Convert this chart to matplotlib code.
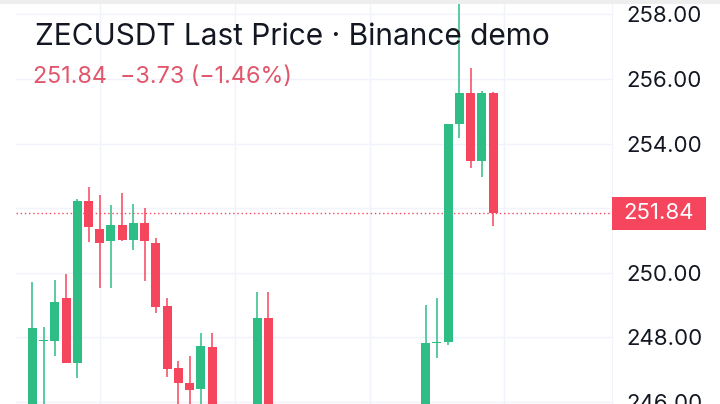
import numpy as np
import matplotlib
matplotlib.use('Agg')
import matplotlib.pyplot as plt
from matplotlib.patches import Rectangle
from matplotlib.transforms import blended_transform_factory

plt.rcParams['font.family'] = ['Inter', 'DejaVu Sans']

# OHLC (candles below the visible range are estimates)
opens = [245.5, 247.88, 247.90, 249.22, 247.22, 252.22, 251.35, 250.97, 251.48, 251.02,
         251.54, 250.92, 248.97, 247.06, 246.60, 246.41, 247.71, 245.5, 245.2, 245.4,
         245.3, 248.59, 245.6, 245.3, 245.5, 245.4, 245.0, 245.3, 245.6, 245.4,
         245.2, 245.1, 245.4, 245.6, 245.3, 245.5, 247.82, 247.87, 254.60, 255.56,
         253.47, 255.57]
highs = [249.72, 248.33, 249.78, 249.95, 252.27, 252.67, 252.41, 252.10, 252.46, 252.13,
         252.00, 251.07, 249.21, 247.27, 247.43, 248.14, 248.14, 245.8, 245.6, 245.7,
         249.40, 249.40, 245.8, 245.7, 245.8, 245.6, 245.5, 245.7, 245.8, 245.7,
         245.5, 245.6, 245.8, 245.8, 245.7, 249.00, 249.21, 254.61, 258.6, 256.33,
         255.63, 255.61]
lows = [245.3, 245.4, 247.43, 247.22, 246.75, 250.96, 249.54, 249.54, 251.00, 250.71,
        249.76, 248.77, 246.78, 245.6, 245.5, 245.7, 245.3, 245.0, 244.8, 245.1,
        245.1, 245.4, 245.1, 244.9, 245.2, 244.8, 244.7, 245.0, 245.2, 245.0,
        244.9, 244.8, 245.1, 245.2, 245.0, 245.3, 247.35, 247.77, 254.16, 253.24,
        252.98, 251.46]
closes = [248.30, 247.91, 249.10, 247.22, 252.22, 251.43, 250.91, 251.48, 251.02, 251.54,
          250.97, 248.95, 247.03, 246.58, 246.37, 247.74, 245.5, 245.2, 245.4, 245.3,
          248.59, 245.6, 245.3, 245.5, 245.4, 245.0, 245.3, 245.6, 245.4, 245.2,
          245.1, 245.4, 245.6, 245.3, 245.5, 247.82, 247.85, 254.60, 255.56, 253.47,
          255.57, 251.84]

symbol = 'ZECUSDT Last Price · Binance demo'
last_price = 251.84
change = '\u22123.73 (\u22121.46%)'
y_ticks = [246, 248, 250, 252, 254, 256, 258]

green = '#2ebd85'
red = '#f6465d'

o = np.array(opens)
h = np.array(highs)
l = np.array(lows)
c = np.array(closes)
x = np.arange(len(o))
up = c >= o
cols = np.where(up, green, red)

fig = plt.figure(figsize=(7.2, 4.04), dpi=100)
fig.patch.set_facecolor('white')
ax = fig.add_axes([16 / 720, 0, 596 / 720, 400 / 404])

ax.vlines(x, l, h, colors=cols, linewidth=1.1, zorder=3)
body_lo = np.minimum(o, c)
body_h = np.maximum(np.abs(c - o), 0.05)
ax.bar(x, body_h, bottom=body_lo, width=0.8, color=cols, zorder=4, linewidth=0)

ax.set_xlim(-1.45, 51.57)
ax.set_ylim(245.94, 258.32)

# grid
for yv in y_ticks:
    ax.axhline(yv, color='#f0f3fa', linewidth=1, zorder=0)
for xv in [6, 18, 30, 42]:
    ax.axvline(xv, color='#f0f3fa', linewidth=1, zorder=0)

ax.axhline(last_price, color=red, linewidth=1, linestyle=(0, (1, 2)), zorder=2)

ax.yaxis.tick_right()
ax.set_yticks(y_ticks)
ax.set_yticklabels(['%.2f' % v for v in y_ticks], fontsize=16, color='#131722')
ax.tick_params(axis='y', length=0, pad=10)
ax.set_xticks([])
for s in ['top', 'left', 'bottom']:
    ax.spines[s].set_visible(False)
ax.spines['right'].set_color('#f0f3fa')

# last price tag
tr = blended_transform_factory(ax.transAxes, ax.transData)
tag_h = 33 / 32.3
ax.add_patch(Rectangle((1.0, last_price - tag_h / 2), 94 / 596, tag_h, transform=tr,
                       facecolor=red, edgecolor='none', clip_on=False, zorder=5))
ax.text(1.0 + 47 / 596, last_price, '%.2f' % last_price, transform=tr, ha='center',
        va='center', fontsize=16, color='white', zorder=6, clip_on=False)

# top strip
fig.patches.append(Rectangle((0, 400 / 404), 1, 4 / 404, transform=fig.transFigure,
                             facecolor='#eeeeee', edgecolor='none'))

fig.text(35 / 720, 1 - 45 / 404, symbol, fontsize=21.5, color='#131722', va='baseline')
fig.text(33 / 720, 1 - 83 / 404, '%.2f  %s' % (last_price, change), fontsize=16.8,
         color='#e0566b', va='baseline')

fig.savefig('out.png', dpi=100)
